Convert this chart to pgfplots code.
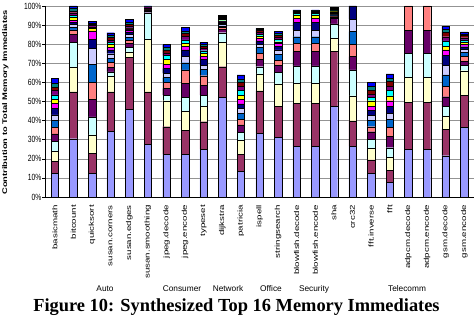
\documentclass[border=0pt]{standalone}
\usepackage{pgfplots}
\pgfplotsset{compat=1.18}
\usepackage{pgfplotstable}
\usepackage{graphicx}
\usepackage{fontspec}
\setmainfont{Liberation Sans}
\newfontfamily\capfont{Liberation Serif}
\definecolor{c1}{HTML}{9999FF}
\definecolor{c2}{HTML}{993366}
\definecolor{c3}{HTML}{FFFFCC}
\definecolor{c4}{HTML}{CCFFFF}
\definecolor{c5}{HTML}{660066}
\definecolor{c6}{HTML}{FF8080}
\definecolor{c7}{HTML}{0066CC}
\definecolor{c8}{HTML}{CCCCFF}
\definecolor{c9}{HTML}{000080}
\definecolor{c10}{HTML}{FF00FF}
\definecolor{c11}{HTML}{FFFF00}
\definecolor{c12}{HTML}{00FFFF}
\definecolor{c13}{HTML}{800080}
\definecolor{c14}{HTML}{800000}
\definecolor{c15}{HTML}{008080}
\definecolor{c16}{HTML}{0000FF}
\pgfplotstableread{
x s1 s2 s3 s4 s5 s6 s7 s8 s9 s10 s11 s12 s13 s14 s15 s16
0 12.5 6 5.5 5 4 3.5 3.5 3 3.5 2.5 2 2.5 2.5 1.5 2 2.5
1 30.5 24.5 13 13 4 2.5 1.5 1.5 1 1 1.5 1 1.5 1 1.5 1
2 12.5 10.5 9.5 9.5 9 9 9.5 8.5 4.5 4.5 1.2 0.5 1 0.8 0.5 0.8
3 34.5 20.5 8 2.5 2.5 2.5 2 2.5 2 1.5 1.5 1 1 1.5 1 1.5
4 46 27 3 2.5 2 1.5 1.5 1.5 1.5 1 0.5 0.5 1 1 1 1.5
5 27.5 27.5 27.5 14 1 0.5 0.3 0.3 0.3 0.2 0.2 0.2 0.2 0.1 0.1 0.1
6 22.3 14.5 13.6 3 3.5 3 2.6 2.2 2.7 2.2 2.4 2 1.5 1.4 1.4 1.5
7 22.3 12.7 9.7 7.5 7.3 7 3.8 3.5 3.2 2 1.5 1.7 1.8 1.7 1.3 1.7
8 25 14.4 8.2 5.8 5.2 4.9 3.3 2.3 2.9 1.8 1.4 1.4 1.2 1.2 0.9 1.1
9 52.2 16 12.6 5.2 1.8 1 0.8 0.8 0.7 0.6 0.6 0.6 0.5 0.5 0.6 0.5
10 13.3 9 7.5 3.9 4 3 3.1 2.6 2.3 2.4 2.3 2.6 1.8 2.1 1.9 2.1
11 33.3 22.2 8.9 3.8 3.9 3.1 3 1.7 1.8 1.3 1.3 1 0.9 0.9 0.7 0.5
12 31.2 16.4 11.6 5.9 4 2.6 3 2.3 2 1.5 0.8 1.2 1.1 1.2 0.9 0.9
13 26.7 22.3 10.5 9.1 7.5 4.4 3.4 3.5 4 2.1 1.8 0.9 0.5 0.4 0.4 0.5
14 26.7 22.3 10.5 9.1 7.5 4.4 3.4 3.5 4 2.1 1.8 0.9 0.5 0.4 0.4 0.5
15 47.6 28.5 7 7.5 2.9 0.9 0.5 0.4 0.5 0.4 0.8 0.5 0.4 0.5 0.4 0.5
16 26.7 13.1 13.1 13.6 7 6.4 6.7 6.4 7 0 0 0 0 0 0 0
17 12.4 7 6.1 4.7 4 2.6 3.2 2.9 2.6 2.1 2.8 1.8 1.7 2.1 2.1 1.9
18 7.5 6.6 6.5 5.2 5.8 4.9 4.3 3 3.5 3.1 2.5 3.1 2.1 2.3 1.7 2.3
19 25 24.4 13.1 12.7 12.2 12.6 0 0 0 0 0 0 0 0 0 0
20 25 24.4 13.1 12.7 12.2 12.6 0 0 0 0 0 0 0 0 0 0
21 21.6 14 6.5 5.2 5.2 5.6 5.8 5.2 4.9 3 2 2.7 2.2 2.3 1.6 1.7
22 36.3 17.1 12.7 3 2.1 2.3 2.2 1.6 1.4 1.4 0.9 1.2 1.2 1.1 0.8 1.1
}\data
\newcommand{\vs}[1]{\scalebox{1}[0.72]{#1}}
\newcommand{\hs}[1]{\scalebox{0.75}[1]{#1}}
\begin{document}
\begin{tikzpicture}
\path[use as bounding box] (0,0) rectangle (474bp,323bp);
\begin{axis}[
  at={(45.5bp,126bp)}, anchor=south west,
  scale only axis, width=428bp, height=191bp,
  ybar stacked, bar width=7.5bp,
  xmin=-0.5, xmax=22.5, ymin=0, ymax=100,
  axis x line=bottom, axis y line=left, axis line style={-, black, line width=0.5bp},
  ytick={0,10,...,100},
  /pgf/number format/assume math mode=true,
  yticklabel={\hs{\pgfmathprintnumber{\tick}\%}},
  yticklabel style={font=\fontsize{9bp}{10bp}\selectfont, inner sep=1bp},
  tick align=outside, major tick length=3bp,
  ytick style={black, line width=0.5bp},
  ymajorgrids, grid style={gray!85, line width=0.5bp},
  xtick={0,...,22},
  xticklabels={\vs{basicmath},\vs{bitcount},\vs{quicksort},\vs{susan.corners},\vs{susan.edges},\vs{susan.smoothing},\vs{jpeg.decode},\vs{jpeg.encode},\vs{typeset},\vs{dijkstra},\vs{patricia},\vs{ispell},\vs{stringsearch},\vs{blowfish.decode},\vs{blowfish.encode},\vs{sha},\vs{crc32},\vs{fft.inverse},\vs{fft},\vs{adpcm.decode},\vs{adpcm.encode},\vs{gsm.decode},\vs{gsm.encode}},
  xticklabel style={rotate=90, anchor=east, inner sep=0pt, font=\fontsize{9.7bp}{11bp}\selectfont},
  xticklabel shift=5bp,
  major x tick style={draw=none},
]
\pgfplotsinvokeforeach{1,...,16}{
  \addplot[fill=c#1, draw=black, line width=0.35bp] table[x=x, y=s#1]{\data};
}
\end{axis}
\node[rotate=90, font=\fontsize{9.35bp}{11bp}\selectfont\bfseries] at (5.5bp,220.5bp) {\vs{Contribution to Total Memory Immediates}};
\begin{scope}[every node/.style={anchor=base, font=\fontsize{8.3bp}{10bp}\selectfont}]
\node at (105bp,31.3bp) {Auto};
\node at (182bp,31.3bp) {Consumer};
\node at (228bp,31.3bp) {Network};
\node at (271bp,31.3bp) {Office};
\node at (314bp,31.3bp) {Security};
\node at (407bp,31.3bp) {Telecomm};
\end{scope}
\node[anchor=base, font=\capfont\bfseries\fontsize{18.4bp}{20bp}\selectfont] at (236.5bp,11.3bp) {Figure 10: Synthesized Top 16 Memory Immediates};
\end{tikzpicture}
\end{document}
